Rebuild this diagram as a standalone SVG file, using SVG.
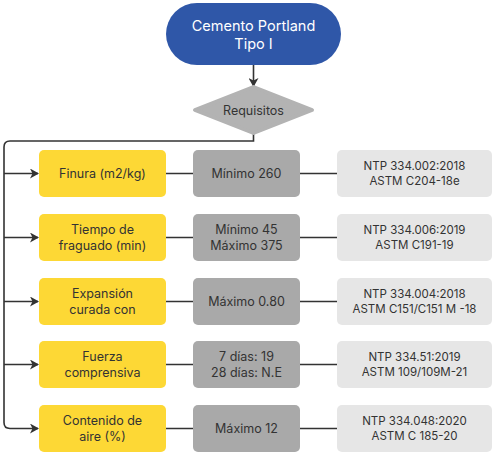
<svg xmlns="http://www.w3.org/2000/svg" width="496" height="455" viewBox="0 0 496 455">
<defs>
<marker id="ah" markerWidth="10" markerHeight="10" refX="8" refY="5" orient="auto" markerUnits="userSpaceOnUse">
<path d="M0,0 L9,5 L0,10 L2.5,5 Z" fill="#333"/>
</marker>
<style>
text{font-family:"Inter","Liberation Sans",sans-serif;font-size:12.5px;fill:#333;text-anchor:middle}
.w{fill:#fff;font-size:14.5px}
.y{fill:#fdd835}
.g{fill:#a9a9a9}
.l{fill:#e6e6e6}
.s{font-size:11.5px}
.c{stroke:#333;stroke-width:1.6;fill:none}
</style>
</defs>
<rect width="496" height="455" fill="#fff"/>
<g id="connectors">
<path class="c" d="M253.5,65 V86" marker-end="url(#ah)"/>
<path class="c" d="M253.5,133 V141 H10 Q4,141 4,147 V422.5 Q4,428.5 10,428.5 H38" marker-end="url(#ah)"/>
<path class="c" d="M4,173.5 H38" marker-end="url(#ah)"/>
<path class="c" d="M4,237.5 H38" marker-end="url(#ah)"/>
<path class="c" d="M4,301.5 H38" marker-end="url(#ah)"/>
<path class="c" d="M4,364.5 H38" marker-end="url(#ah)"/>
<path class="c" d="M166,173.5 H193 M300,173.5 H337"/>
<path class="c" d="M166,237.5 H193 M300,237.5 H337"/>
<path class="c" d="M166,301.5 H193 M300,301.5 H337"/>
<path class="c" d="M166,364.5 H193 M300,364.5 H337"/>
<path class="c" d="M166,428.5 H193 M300,428.5 H337"/>
</g>
<g id="start">
<rect x="166" y="3" width="175" height="62" rx="31" fill="#2f57a8"/>
<text class="w" x="253.5" y="31">Cemento Portland</text>
<text class="w" x="253.5" y="48.5">Tipo I</text>
</g>
<g id="requisitos">
<path d="M253.5,87 L312,110 L253.5,133 L195,110 Z" fill="#b3b3b3" stroke="#b3b3b3" stroke-width="4" stroke-linejoin="round"/>
<text x="253.5" y="114.5">Requisitos</text>
</g>
<g id="finura">
<rect class="y" x="39" y="150" width="127" height="47" rx="5"/>
<text x="102.5" y="178">Finura (m2/kg)</text>
</g>
<g id="finura-valor">
<rect class="g" x="193" y="150" width="107" height="47" rx="5"/>
<text x="246.5" y="178">Mínimo 260</text>
</g>
<g id="finura-norma">
<rect class="l" x="337" y="150" width="155" height="47" rx="5"/>
<text class="s" x="414.5" y="170">NTP 334.002:2018</text>
<text class="s" x="414.5" y="185">ASTM C204-18e</text>
</g>
<g id="fraguado">
<rect class="y" x="39" y="214" width="127" height="47" rx="5"/>
<text x="102.5" y="234">Tiempo de</text>
<text x="102.5" y="250">fraguado (min)</text>
</g>
<g id="fraguado-valor">
<rect class="g" x="193" y="214" width="107" height="47" rx="5"/>
<text x="246.5" y="234">Mínimo 45</text>
<text x="246.5" y="250">Máximo 375</text>
</g>
<g id="fraguado-norma">
<rect class="l" x="337" y="214" width="155" height="47" rx="5"/>
<text class="s" x="414.5" y="234">NTP 334.006:2019</text>
<text class="s" x="414.5" y="249">ASTM C191-19</text>
</g>
<g id="expansion">
<rect class="y" x="39" y="278" width="127" height="47" rx="5"/>
<text x="102.5" y="298">Expansión</text>
<text x="102.5" y="314">curada con</text>
</g>
<g id="expansion-valor">
<rect class="g" x="193" y="278" width="107" height="47" rx="5"/>
<text x="246.5" y="306">Máximo 0.80</text>
</g>
<g id="expansion-norma">
<rect class="l" x="337" y="278" width="155" height="47" rx="5"/>
<text class="s" x="414.5" y="298">NTP 334.004:2018</text>
<text class="s" x="414.5" y="313">ASTM C151/C151 M -18</text>
</g>
<g id="fuerza">
<rect class="y" x="39" y="341" width="127" height="47" rx="5"/>
<text x="102.5" y="361">Fuerza</text>
<text x="102.5" y="377">comprensiva</text>
</g>
<g id="fuerza-valor">
<rect class="g" x="193" y="341" width="107" height="47" rx="5"/>
<text x="246.5" y="361">7 días: 19</text>
<text x="246.5" y="377">28 días: N.E</text>
</g>
<g id="fuerza-norma">
<rect class="l" x="337" y="341" width="155" height="47" rx="5"/>
<text class="s" x="414.5" y="361">NTP 334.51:2019</text>
<text class="s" x="414.5" y="376">ASTM 109/109M-21</text>
</g>
<g id="aire">
<rect class="y" x="39" y="405" width="127" height="47" rx="5"/>
<text x="102.5" y="425">Contenido de</text>
<text x="102.5" y="441">aire (%)</text>
</g>
<g id="aire-valor">
<rect class="g" x="193" y="405" width="107" height="47" rx="5"/>
<text x="246.5" y="433">Máximo 12</text>
</g>
<g id="aire-norma">
<rect class="l" x="337" y="405" width="155" height="47" rx="5"/>
<text class="s" x="414.5" y="425">NTP 334.048:2020</text>
<text class="s" x="414.5" y="440">ASTM C 185-20</text>
</g>
</svg>
